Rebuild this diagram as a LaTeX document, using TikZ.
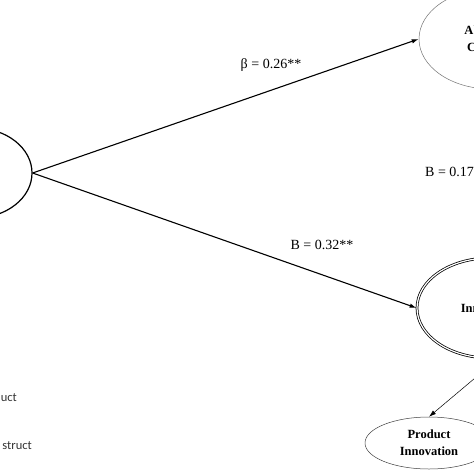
\documentclass[tikz,border=0pt]{standalone}
\usepackage{fontspec}
\setmainfont{Liberation Serif}
\newfontfamily\legendfont{Carlito}
\usetikzlibrary{shapes.geometric,arrows.meta}

\begin{document}
\begin{tikzpicture}[x=1pt,y=-1pt,>={Latex[length=7pt,width=4.5pt]}]

  \def\xmax{474}
  \def\ymax{474}

  \tikzset{
    construct/.style={ellipse, draw, inner sep=0pt, align=center,
      font=\fontsize{12.5}{17}\selectfont\bfseries},
    effect/.style={->, line width=1.1pt},
    coef/.style={inner sep=0pt, font=\fontsize{14}{16}\selectfont},
    legend/.style={inner sep=0pt, text=black!80,
      font=\legendfont\fontsize{12.5}{15}\selectfont}
  }

  \useasboundingbox (0,0) rectangle (\xmax,\ymax);
  \clip (0,0) rectangle (\xmax,\ymax);

  % constructs
  \node[construct, line width=1.2pt, minimum width=114pt, minimum height=90pt]
    (orient) at (-25,173) {};
  \node[construct, draw=black!55, line width=0.5pt, minimum width=144pt,
    minimum height=100pt, text depth=0pt] (absorb) at (491,39) {\hspace*{6pt}Absorptive\\Capacity};
  \node[construct, double, double distance=1.2pt, line width=0.75pt,
    minimum width=146pt, minimum height=100pt] (inno) at (490,308) {Innovation};
  \node[construct, draw=black!75, line width=0.5pt, minimum width=128pt,
    minimum height=52pt] (prod) at (429,443) {Product\\Innovation};

  % paths
  \draw[effect] (orient.east) -- (absorb.west);
  \draw[effect] (orient.east) -- (inno.west);
  \draw[->, line width=0.5pt] (inno.-80) -- (prod.north);

  % coefficients
  \node[coef] (b1) at (271,65) {β = 0.26**};
  \node[coef] (b2) at (322,245) {B = 0.32**};
  \node[coef, anchor=west] (b3) at (425,172) {B = 0.17};

  % legend
  \node[legend, anchor=east] (refl) at (17,398) {uct};
  \node[legend, anchor=east] (form) at (32,446) {struct};

\end{tikzpicture}
\end{document}
